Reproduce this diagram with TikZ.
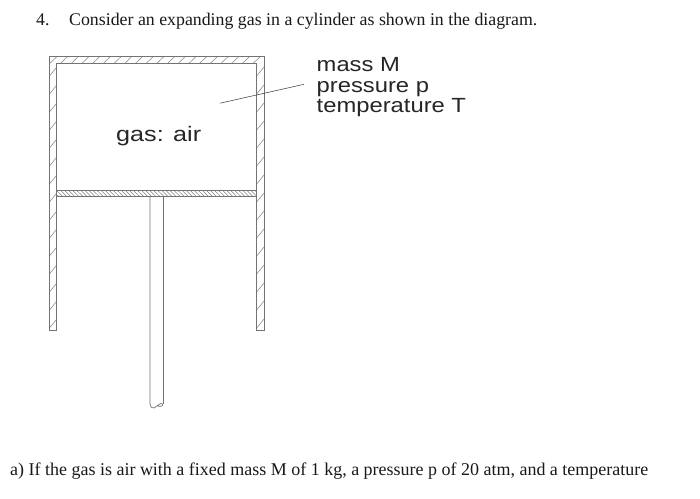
\documentclass[tikz,border=0pt]{standalone}
\usepackage{fontspec}
\setmainfont{Liberation Serif}
\newfontfamily\labelfont[FakeStretch=1.16]{Liberation Sans}
\newfontfamily\gasfont[FakeStretch=1.2]{Liberation Sans}
\tikzset{
  wall/.style={draw=black!55,line width=0.7pt},
  hatch/.style={draw=black!50,line width=0.5pt},
  leader/.style={draw=black!70,line width=0.6pt},
  prose/.style={anchor=base west,inner sep=0pt,font=\fontsize{17.82}{20}\selectfont,text=black!90},
  prosewide/.style={anchor=base west,inner sep=0pt,font=\fontsize{17.98}{20}\selectfont,text=black!90},
  tag/.style={anchor=base west,inner sep=0pt,font=\labelfont\fontsize{20.5}{22}\selectfont,text=black!85},
  gastag/.style={anchor=base west,inner sep=0pt,font=\gasfont\fontsize{21}{22}\selectfont,text=black!85}
}
\begin{document}
\begin{tikzpicture}[x=1pt,y=-1pt]
\useasboundingbox (0,0) rectangle (700,498);
\fill[white] (0,0) rectangle (700,498);
% hatching
\begin{scope}
\clip (49.5,56.5) rectangle (264,63.2);
\foreach \i in {0,...,21} \draw[hatch] ({50+\i*10.7},63.2) -- ({57+\i*10.7},56.5);
\end{scope}
\begin{scope}
\clip (49.5,56.5) -- (264,56.5) -- (264,330.7) -- (256.7,330.7) -- (256.7,63.2) -- (56.8,63.2) -- (56.8,330.7) -- (49.5,330.7) -- cycle;
\foreach \i in {0,...,16} {
  \draw[hatch] (49.5,{76+\i*18}) -- (56.8,{67+\i*18});
  \draw[hatch] (256.7,{76+\i*18}) -- (264,{67+\i*18});
}
\end{scope}
\begin{scope}
\clip (56.8,190) rectangle (256.7,196.8);
\foreach \i in {0,...,50} \draw[hatch] ({52+\i*4.05},190) -- ({59+\i*4.05},196.8);
\end{scope}
% cylinder
\draw[wall] (49.5,330.7) -- (49.5,56.5) -- (264,56.5) -- (264,330.7) -- (256.7,330.7) -- (256.7,63.2) -- (56.8,63.2) -- (56.8,330.7) -- cycle;
\draw[wall] (56.8,190) -- (256.7,190) (56.8,196.8) -- (256.7,196.8);
% rod
\draw[wall] (150,196.8) -- (150,404) .. controls (150,407) and (152,408.5) .. (154,408) .. controls (157,407) and (158,404) .. (161,403.5) .. controls (164,403.5) and (163,406.5) .. (160,406.5) .. controls (158,406.5) and (157,405.5) .. (158,405);
\draw[wall] (163.3,196.8) -- (163.3,403.5);
% leader
\coordinate (leadA) at (220,103.2);
\coordinate (leadB) at (304,84.3);
\draw[leader] (leadA) -- (leadB);
% texts
\node[prose] (qnum) at (36,25) {4.};
\node[prose] (qtext) at (69,25) {Consider an expanding gas in a cylinder as shown in the diagram.};
\node[prosewide] (parta) at (10,475) {a) If the gas is air with a fixed mass M of 1 kg, a pressure p of 20 atm, and a temperature};
\node[tag] (mass) at (316.5,71) {mass M};
\node[tag] (press) at (316.5,92) {pressure p};
\node[tag] (temp) at (316.5,112) {temperature T};
\node[gastag] (gas) at (116,141) {gas: air};
\end{tikzpicture}
\end{document}
